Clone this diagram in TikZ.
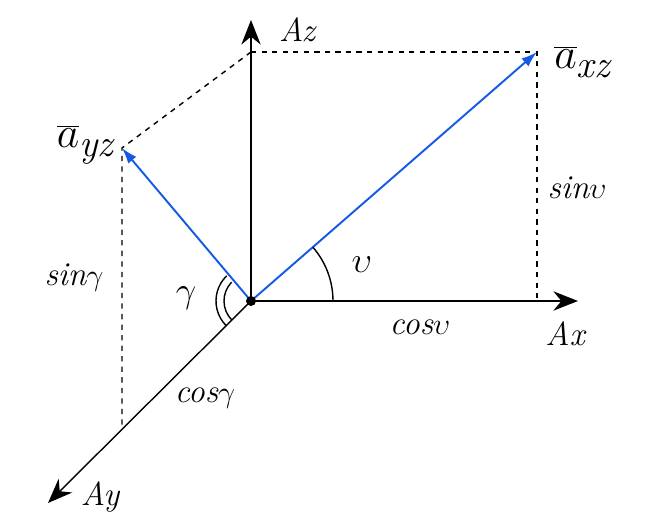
\documentclass[tikz,border=0pt]{standalone}
\usetikzlibrary{arrows.meta}
\begin{document}
\begin{tikzpicture}[x=0.02cm,y=-0.02cm,
 ax/.style={thick,-{Stealth[length=14pt,width=11pt]}},
 bl/.style={line width=1.1pt,draw={rgb,255:red,20;green,90;blue,230},-{Latex[length=9pt,width=6pt]}},
 dsh/.style={dashed,thick},
 lab/.style={font=\itshape\huge},
 lab2/.style={font=\itshape\fontsize{19}{21}\selectfont},
 big/.style={font=\fontsize{34}{36}\selectfont}]
\useasboundingbox (0,0) rectangle (654,530);
\coordinate (O) at (251,301);
\coordinate (Z) at (251,20);
\coordinate (X) at (578,301);
\coordinate (Y) at (48,503);
\coordinate (A) at (537,52);
\coordinate (B) at (122,148);
\coordinate (Zt) at (251,52);
\coordinate (Xb) at (537,301);
\coordinate (Yb) at (122,429);
\draw[ax] (O) -- (Z);
\draw[ax] (O) -- (X);
\draw[ax] (O) -- (Y);
\draw[dsh] (Zt) -- (A) -- (Xb);
\draw[dsh] (Zt) -- (B) -- (Yb);
\draw[bl] (O) -- (A);
\draw[bl] (O) -- (B);
\fill (O) circle (5);
\draw[thick] (O) ++(0:82) arc[start angle=0,end angle=-41,radius=82];
\draw[thick] (O) ++(-136:27) arc[start angle=-136,end angle=-225,radius=27];
\draw[thick] (O) ++(-134:35) arc[start angle=-134,end angle=-225,radius=35];
\node[lab2] (naz) at (297,30) {Az};
\node[lab2] (nax) at (565,334) {Ax};
\node[lab2] (nay) at (100,497) {Ay};
\node[big] (na) at (582,62) {$\overline{a}$\raisebox{-0.35ex}{\itshape\fontsize{22}{22}\selectfont xz}};
\node[big] (nb) at (85,145) {$\overline{a}$\raisebox{-0.35ex}{\itshape\fontsize{22}{22}\selectfont yz}};
\node[lab2] (ns1) at (577,188) {sin$\upsilon$};
\node[lab2] (ns2) at (74,278) {sin$\gamma$};
\node[lab] (nu) at (362,265) {$\upsilon$};
\node[lab] (ng) at (186,298) {$\gamma$};
\node[lab2] (nc1) at (420,327) {cos$\upsilon$};
\node[lab2] (nc2) at (205,398) {cos$\gamma$};
\end{tikzpicture}
\end{document}
